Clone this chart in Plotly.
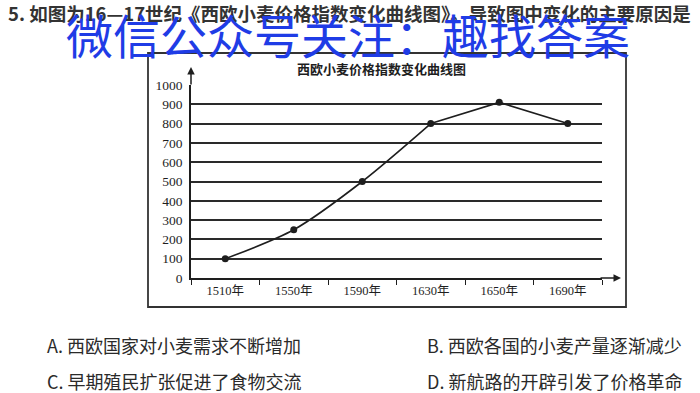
import plotly.graph_objects as go

years = ["1510年", "1550年", "1590年", "1630年", "1650年", "1690年"]
price_index = [100, 250, 500, 800, 910, 800]
y_ticks = [0, 100, 200, 300, 400, 500, 600, 700, 800, 900, 1000]

chart_title = "西欧小麦价格指数变化曲线图"
question = "5. 如图为16—17世纪《西欧小麦价格指数变化曲线图》。导致图中变化的主要原因是"
watermark = "微信公众号关注：趣找答案"
options = [
    "A. 西欧国家对小麦需求不断增加",
    "B. 西欧各国的小麦产量逐渐减少",
    "C. 早期殖民扩张促进了食物交流",
    "D. 新航路的开辟引发了价格革命",
]

W, H = 700, 393
L, R, T, B = 191, 602, 85, 278


def px(x):
    return (x - L) / (R - L)


def py(y):
    return (B - y) / (B - T)


serif = "Liberation Serif, Noto Sans CJK SC, serif"
cjk = "Noto Sans CJK SC, sans-serif"
ink = "#1e1e1e"

fig = go.Figure()
# rising part is a smooth curve, the top part straight segments
fig.add_trace(go.Scatter(
    x=years[:4], y=price_index[:4], mode="lines",
    line=dict(color=ink, width=1.6, shape="spline", smoothing=0.8),
    cliponaxis=False, showlegend=False, hoverinfo="skip",
))
fig.add_trace(go.Scatter(
    x=years[3:], y=price_index[3:], mode="lines",
    line=dict(color=ink, width=1.6),
    cliponaxis=False, showlegend=False, hoverinfo="skip",
))
fig.add_trace(go.Scatter(
    x=years, y=price_index, mode="markers",
    marker=dict(color=ink, size=7),
    cliponaxis=False, showlegend=False,
))

fig.update_layout(
    width=W, height=H,
    margin=dict(l=L, r=W - R, t=T, b=H - B, pad=0),
    paper_bgcolor="white", plot_bgcolor="white",
    xaxis=dict(
        type="category", range=[-0.5, len(years) - 0.5],
        showgrid=False, showline=True, linecolor=ink, linewidth=1.6,
        ticks="outside", tickson="boundaries", ticklen=5, tickcolor=ink, tickwidth=1.2,
        tickfont=dict(family=serif, size=12.5, color=ink),
        zeroline=False,
    ),
    yaxis=dict(
        range=[0, 1000], tickvals=y_ticks,
        showgrid=True, gridcolor="#2a2a2a", gridwidth=1.8,
        showline=True, linecolor=ink, linewidth=1.6,
        ticks="", ticklabelstandoff=4, tickfont=dict(family=serif, size=13.5, color=ink),
        zeroline=False,
    ),
)

# axis arrows
fig.add_annotation(x=px(621), y=0, xref="paper", yref="paper",
                   ax=-22, ay=0, axref="pixel", ayref="pixel",
                   showarrow=True, arrowhead=2, arrowsize=1, arrowwidth=1.5, arrowcolor=ink, text="")
fig.add_annotation(x=0, y=py(67), xref="paper", yref="paper",
                   ax=0, ay=19, axref="pixel", ayref="pixel",
                   showarrow=True, arrowhead=2, arrowsize=1, arrowwidth=1.5, arrowcolor=ink, text="")

# frame
fig.add_shape(type="rect", xref="paper", yref="paper",
              x0=px(148), x1=px(626), y0=py(307), y1=py(53),
              line=dict(color="#333333", width=1.8))

# chart title
fig.add_annotation(x=px(381), y=py(69), xref="paper", yref="paper", showarrow=False,
                   xanchor="center", yanchor="middle",
                   text="<b>" + chart_title + "</b>", font=dict(family=cjk, size=13, color=ink))

# question line
fig.add_annotation(x=px(6), y=py(13), xref="paper", yref="paper", showarrow=False,
                   xanchor="left", yanchor="middle", text="<b>" + question + "</b>",
                   font=dict(family=cjk, size=18.5, color="#333333"))

# watermark
fig.add_annotation(x=px(348), y=py(34), xref="paper", yref="paper", showarrow=False,
                   xanchor="center", yanchor="middle",
                   text=watermark, font=dict(family=cjk, size=47, color="#1f3ce6"))

# options
pos = [(45, 345), (425, 345), (45, 381), (425, 381)]
for (ox, oy), t in zip(pos, options):
    fig.add_annotation(x=px(ox), y=py(oy), xref="paper", yref="paper", showarrow=False,
                       xanchor="left", yanchor="middle", text=t,
                       font=dict(family=cjk, size=18, color="#2a2a2a"))

fig.write_html("out.html")
